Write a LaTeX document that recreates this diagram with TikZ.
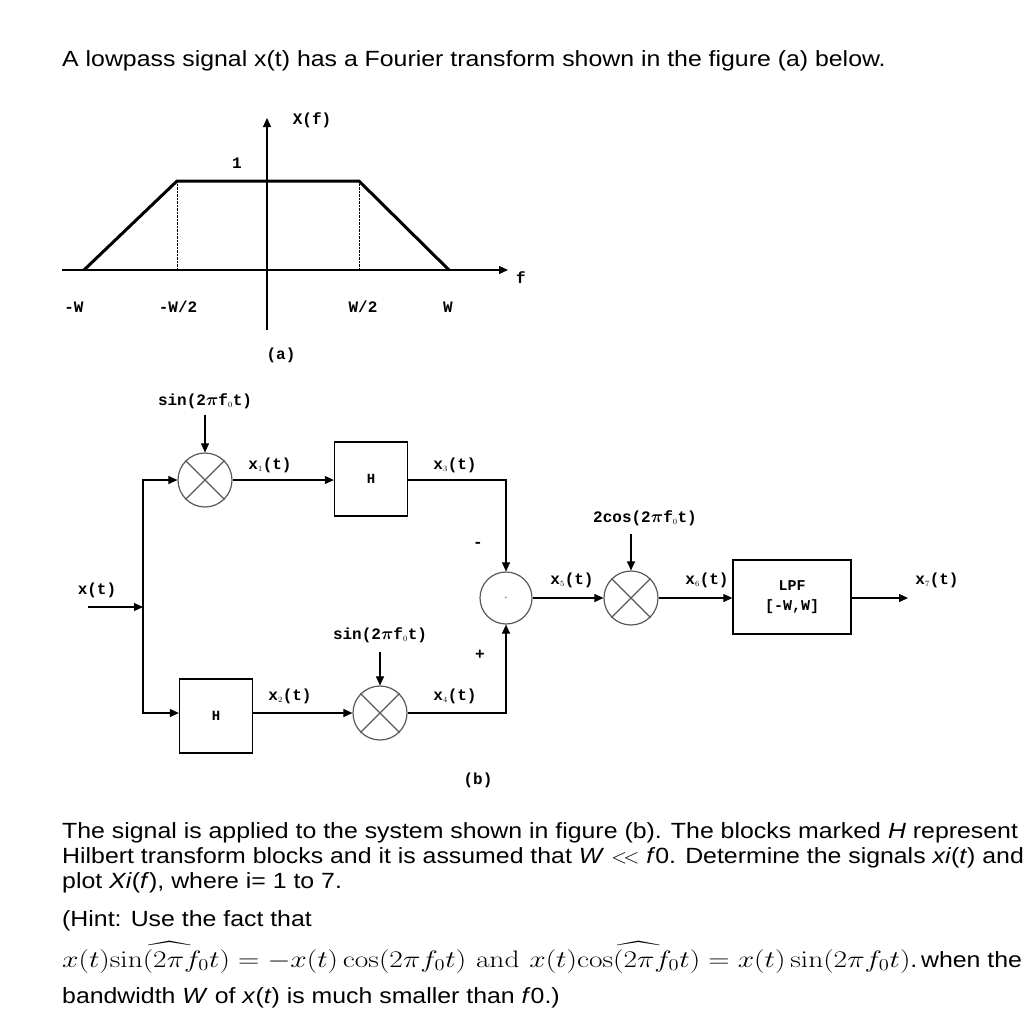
\documentclass[tikz,border=0pt]{standalone}
\usepackage{amsmath}
\usepackage[no-math]{fontspec}
\setmainfont{Liberation Sans}[FakeStretch=1.13]
\newfontfamily\mono{Liberation Mono}
\usetikzlibrary{arrows.meta}
\begin{document}
\begin{tikzpicture}[x=1pt,y=-1pt,
  txt/.style={anchor=base west,inner sep=0,font=\fontsize{22}{26}\selectfont},
  lab/.style={inner sep=0,font=\mono\bfseries\fontsize{16}{19}\selectfont},
  wire/.style={line width=1.1pt},
  arr/.style={wire,-{Triangle[length=9pt,width=8pt]}},
  blk/.style={draw,line width=1.3pt,inner sep=0},
  mul/.style={draw,gray!70!black,line width=1.2pt,circle,minimum size=54pt,inner sep=0},
]
\useasboundingbox (0,0) rectangle (1024,1018);
\node[txt] (title) at (62,66) {A lowpass signal x(t) has a Fourier transform shown in the figure (a) below.};
% plot (a)
\coordinate (fa0) at (62,270); \coordinate (fa1) at (508,270);
\coordinate (va0) at (267,330); \coordinate (va1) at (267,118);
\draw[arr] (fa0) -- (fa1);
\draw[arr] (va0) -- (va1);
\node[lab] (fl) at (521,278) {f};
\node[lab] (xf) at (312,120) {X(f)};
\node[lab] (one) at (237,163) {1};
\draw[line width=3pt] (84,270) -- (177,181) -- (359,181) -- (449,270);
\draw[densely dotted] (177,181) -- (177,270) (359,181) -- (359,270);
\node[lab] (t1) at (74,307) {-W};
\node[lab] (t2) at (178,307) {-W/2};
\node[lab] (t3) at (363,307) {W/2};
\node[lab] (t4) at (448,307) {W};
\node[lab] (ca) at (281,355) {(a)};
% diagram (b)
\node[mul] (m1) at (205,480) {};
\draw[gray!70!black,line width=1.2pt] (m1.45)--(m1.225) (m1.135)--(m1.315);
\node[lab] (s1) at (205,401) {sin(2$\boldsymbol\pi$f$_{\scriptscriptstyle 0}$t)};
\draw[arr] (205,415) -- (m1.north);
\node[blk,minimum width=73pt,minimum height=74pt] (h1) at (371,479) {\mono\bfseries\fontsize{14}{16}\selectfont H};
\node[blk,minimum width=73pt,minimum height=74pt] (h2) at (216,716) {\mono\bfseries\fontsize{14}{16}\selectfont H};
\node[mul] (m2) at (380,713) {};
\draw[gray!70!black,line width=1.2pt] (m2.45)--(m2.225) (m2.135)--(m2.315);
\node[lab] (s2) at (380,635) {sin(2$\boldsymbol\pi$f$_{\scriptscriptstyle 0}$t)};
\draw[arr] (380,652) -- (m2.north);
\node[mul,minimum size=52pt] (sum) at (506,598) {\tiny +};
\node[mul] (m3) at (631,598) {};
\draw[gray!70!black,line width=1.2pt] (m3.45)--(m3.225) (m3.135)--(m3.315);
\node[lab] (c3) at (645,518) {2cos(2$\boldsymbol\pi$f$_{\scriptscriptstyle 0}$t)};
\draw[arr] (631,534) -- (m3.north);
\node[blk,minimum width=118pt,minimum height=74pt,align=center,font=\mono\bfseries\fontsize{15}{20}\selectfont] (lpf) at (792,597) {LPF\\{}[-W,W]};
\coordinate (xin) at (88,607);
\coordinate (split) at (143,607);
\draw[arr] (xin) -- (split);
\node[lab] (xl) at (97,590) {x(t)};
\draw[arr] (split) |- (m1.west);
\draw[arr] (split) |- (h2.west |- 0,713);
\draw[arr] (m1.east) -- (h1.west |- m1);
\draw[arr] (h1.east |- m1) -| (sum.north);
\draw[arr] (h2.east |- m2) -- (m2.west);
\draw[arr] (m2.east) -| (sum.south);
\draw[arr] (sum.east) -- (m3.west);
\draw[arr] (m3.east) -- (lpf.west |- m3);
\coordinate (out) at (908,598);
\draw[arr] (lpf.east |- m3) -- (out);
\node[lab] (x1) at (270,465) {x$_{\scriptscriptstyle 1}$(t)};
\node[lab] (x2) at (290,696) {x$_{\scriptscriptstyle 2}$(t)};
\node[lab] (x3) at (455,465) {x$_{\scriptscriptstyle 3}$(t)};
\node[lab] (x4) at (455,696) {x$_{\scriptscriptstyle 4}$(t)};
\node[lab] (x5) at (572,580) {x$_{\scriptscriptstyle 5}$(t)};
\node[lab] (x6) at (707,580) {x$_{\scriptscriptstyle 6}$(t)};
\node[lab] (x7) at (937,580) {x$_{\scriptscriptstyle 7}$(t)};
\node[lab] (mi) at (478,545) {-};
\node[lab] (pl) at (480,655) {+};
\node[lab] (cb) at (478,780) {(b)};
% text
\node[txt] (p1) at (62,838) {The signal is applied to the system shown in figure (b). The blocks marked \textit{H} represent};
\node[txt] (p2) at (62,863) {Hilbert transform blocks and it is assumed that \textit{W} $<\!<$ \textit{f}0. Determine the signals \textit{xi}(\textit{t}) and};
\node[txt] (p3) at (62,888) {plot \textit{Xi}(\textit{f}), where i= 1 to 7.};
\node[txt] (p4) at (62,926) {(Hint: Use the fact that};
\node[txt] (p5) at (62,967) {\scalebox{1.42}[1.15]{$\displaystyle x(t)\widehat{\sin(2\pi f_0t)}=-x(t)\cos(2\pi f_0t)\ \mathrm{and}\ x(t)\widehat{\cos(2\pi f_0t)}=x(t)\sin(2\pi f_0t)$}.\,when the};
\node[txt] (p6) at (62,1003) {bandwidth \textit{W} of \textit{x}(\textit{t}) is much smaller than \textit{f}0.)};
\end{tikzpicture}
\end{document}
